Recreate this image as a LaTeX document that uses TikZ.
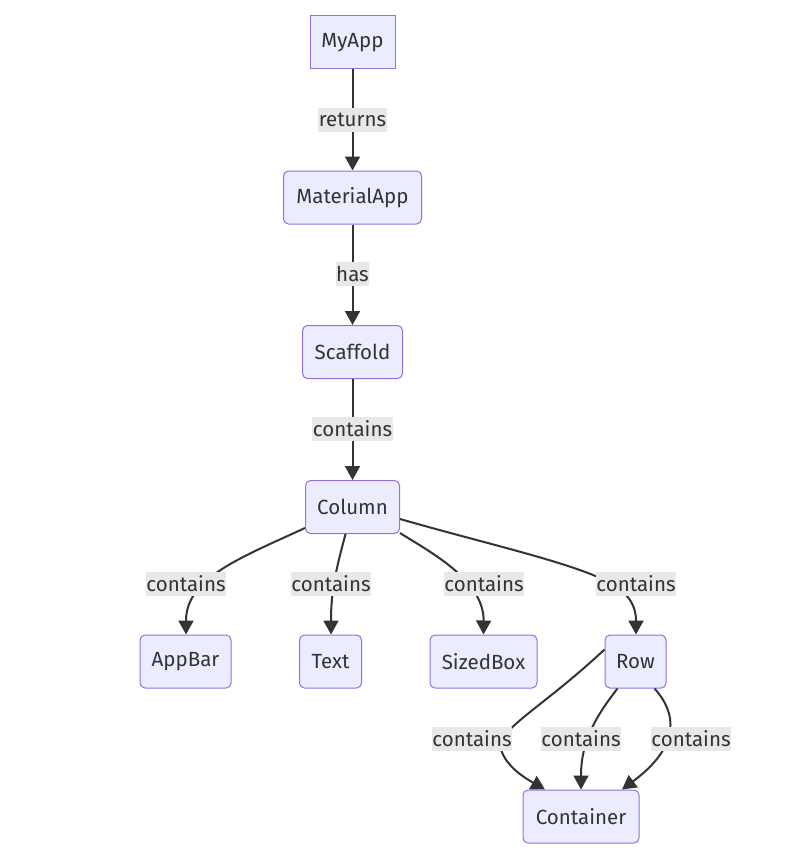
\documentclass[tikz,border=0pt]{standalone}
\usepackage{fontspec}
\setmainfont{Fira Sans}
\usetikzlibrary{arrows.meta}
\definecolor{nodefill}{HTML}{ECECFF}
\definecolor{nodeline}{HTML}{9370DB}
\definecolor{edgeline}{HTML}{333333}
\definecolor{labelbg}{HTML}{E8E8E8}
\definecolor{txt}{HTML}{333333}
\begin{document}
\begin{tikzpicture}[x=1pt,y=-1pt,
  box/.style={draw=nodeline,fill=nodefill,line width=1pt,rounded corners=5pt,
    minimum height=53pt,inner sep=0pt,text=txt,font=\fontsize{20.5pt}{24pt}\selectfont},
  sqbox/.style={box,rounded corners=0pt},
  lbl/.style={fill=labelbg,inner xsep=0.5pt,inner ysep=0pt,minimum height=24pt,text=txt,
    font=\fontsize{20.5pt}{24pt}\selectfont},
  edge/.style={draw=edgeline,line width=2pt,-{Triangle[length=14pt,width=15pt]}}]
\useasboundingbox (0,0) rectangle (795,856);
% nodes
\node[sqbox,minimum width=85pt] (myapp) at (352.5,42.5) {MyApp};
\node[box,minimum width=138pt] (matapp) at (352.5,197.5) {MaterialApp};
\node[box,minimum width=100pt] (scaf) at (352.5,352) {Scaffold};
\node[box,minimum width=94pt] (col) at (352.5,507) {Column};
\node[box,minimum width=91pt] (appbar) at (185.5,661.5) {AppBar};
\node[box,minimum width=62pt] (text) at (330.5,661.5) {Text};
\node[box,minimum width=107pt] (sized) at (483.5,661.5) {SizedBox};
\node[box,minimum width=61pt] (row) at (635.5,661.5) {Row};
\node[box,minimum width=116pt] (cont) at (581,816.5) {Container};
% edges
\draw[edge] (myapp.south) -- (matapp.north);
\draw[edge] (matapp.south) -- (scaf.north);
\draw[edge] (scaf.south) -- (col.north);
\draw[edge] ([yshift=6pt]col.south west) .. controls (240,558) and (186,578) .. ([xshift=0.5pt]appbar.north);
\draw[edge] ([xshift=-7pt]col.south) .. controls (336,570) and (331,590) .. ([xshift=0.5pt]text.north);
\draw[edge] ([yshift=1pt]col.south east) .. controls (430,552) and (484,580) .. (sized.north);
\draw[edge] ([yshift=-12pt]col.east) .. controls (480,542) and (560,560) .. (600,578)
   .. controls (628,590) and (636,605) .. ([xshift=0.5pt]row.north);
\draw[edge] ([yshift=12pt]row.west) .. controls (545,705) and (505,725) .. (500,745)
   .. controls (503,765) and (525,778) .. ([xshift=-36pt]cont.north);
\draw[edge] ([xshift=-18pt]row.south) .. controls (597,715) and (581,740) .. (cont.north);
\draw[edge] ([xshift=19pt]row.south) .. controls (676,712) and (682,745) .. ([xshift=41pt]cont.north);
% labels
\node[lbl] (l1) at (352.5,120) {returns};
\node[lbl] (l2) at (352.5,274) {has};
\node[lbl] (l3) at (352.5,429) {contains};
\node[lbl] (l4) at (186,584) {contains};
\node[lbl] (l5) at (331,584) {contains};
\node[lbl] (l6) at (484,584) {contains};
\node[lbl] (l7) at (636,584) {contains};
\node[lbl] (l8) at (472,739) {contains};
\node[lbl] (l9) at (581,739) {contains};
\node[lbl] (l10) at (691,739) {contains};
\end{tikzpicture}
\end{document}
